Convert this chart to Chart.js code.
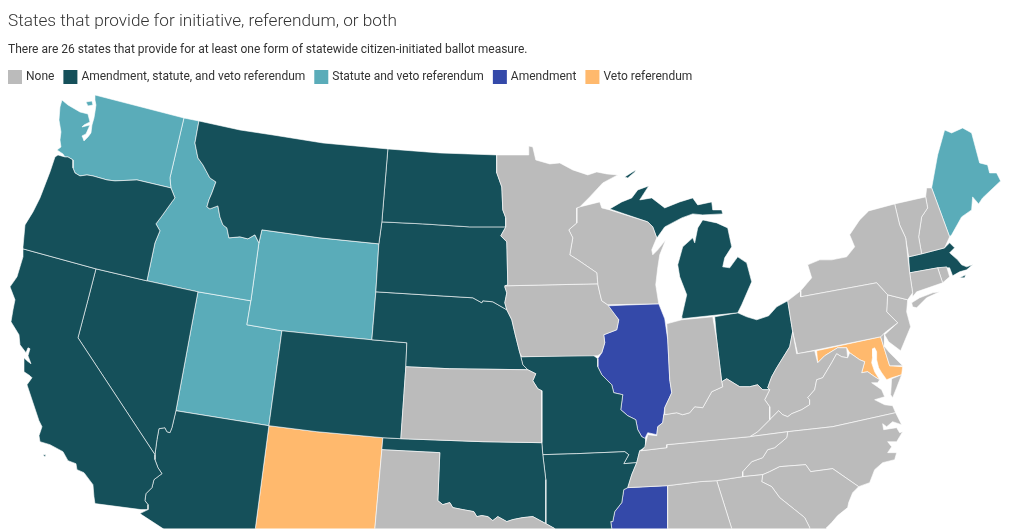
<!DOCTYPE html>
<html><head><meta charset="utf-8">
<style>html,body{margin:0;padding:0;background:#fff}canvas{display:block}</style>
<script src="https://cdn.jsdelivr.net/npm/chart.js@4"></script>
</head><body><canvas id="c" width="1012" height="529"></canvas>
<script>
const titleText = "States that provide for initiative, referendum, or both";
const subtitleText = "There are 26 states that provide for at least one form of statewide citizen-initiated ballot measure.";
const categories = ["None","Amendment, statute, and veto referendum","Statute and veto referendum","Amendment","Veto referendum"];
const categoryColors = ["#BBBBBB","#15505A","#5AACB9","#3449A9","#FFB96D"];

// State outlines, as [x, y, x, y, ...] in map units
const WA=[95,95,184,118,170,178,171,188,137,180,115,181,107,180,93,176,87,175,80,176,75,173,73,168,73,160,68,157,65,157,63,154,57,150,61,147,60,140,61,132,59,120,60,107,62,100,68,105,80,112,84,113,88,114,90,122,84,125,82,127,90,125,86,134,82,136,83,138,84,141,88,137,91,133,92,125,94,118,95,112,96,105,95,100];
const WA_island=[86,102,92,101,93,105,88,106];
const OR=[58,155,65,157,68,157,73,160,73,168,75,173,80,176,87,175,93,176,107,180,115,181,137,180,171,188,175,198,172,202,162,216,156,224,160,231,155,243,147,281,96,269,23,249,23,247,25,225,33,212,40,198,50,172,55,157];
const CA=[23,249,96,269,88,300,78,338,155,455,155,460,158,468,162,474,154,480,152,488,146,494,145,501,148,505,148,510,141,510,95,504,94,497,93,485,84,473,77,470,76,464,68,461,63,452,50,445,40,442,39,436,42,427,39,421,33,403,27,385,32,378,30,376,24,372,24,358,27,361,31,364,28,356,30,349,28,348,26,353,20,345,19,335,11,322,13,310,15,300,10,287,17,277,20,267,23,257];
const CA_island=[43,455,46,455,45,457];
const NV=[96,269,147,281,198,292,176,411,172,428,170,433,167,432,165,428,159,429,157,440,155,455,78,338,88,300];
const ID=[184,118,199,121,195,143,198,158,203,165,210,178,216,182,212,193,209,200,207,207,210,209,218,206,220,217,223,225,227,228,229,238,240,237,248,239,255,235,259,243,251,301,198,292,147,281,155,243,160,231,156,224,162,216,172,202,175,198,171,188,170,178];
const MT=[199,121,240,130,273,135,323,143,388,149,382,222,379,244,320,238,262,230,259,243,255,235,248,239,240,237,229,238,227,228,223,225,220,217,218,206,210,209,207,207,209,200,212,193,216,182,210,178,203,165,198,158,195,143];
const ND=[388,149,440,153,497,155,497,163,497,173,502,187,503,210,506,218,506,227,470,227,423,224,382,222];
const SD=[382,222,423,224,470,227,506,227,501,236,507,242,508,285,505,287,507,293,505,303,507,310,493,302,483,301,482,303,473,298,440,296,376,292,379,244];
const WY=[262,230,320,238,379,244,376,292,372,340,340,337,282,331,247,325,251,301,259,243];
const NE=[376,292,440,296,473,298,482,303,483,301,493,302,507,310,512,320,515,333,520,353,523,365,528,370,450,369,406,367,407,343,372,340];
const CO=[282,331,340,337,372,340,407,343,406,367,401,439,383,438,317,432,269,426];
const UT=[198,292,251,301,247,325,282,331,269,426,176,411];
const AZ=[176,411,269,426,250,570,200,552,163,529,140,514,148,510,148,505,145,501,146,494,152,488,154,480,162,474,158,468,155,460,155,455,157,440,159,429,165,428,167,432,170,433,172,428];
const NM=[269,426,317,432,383,438,382,450,375,529,370,570,250,570];
const KS=[406,367,450,369,528,370,536,374,533,381,538,389,542,391,542,443,483,442,401,439];
const MO=[521,357,593,355,598,359,598,367,602,375,612,385,614,393,623,395,621,410,628,416,636,420,638,430,642,437,646,439,646,447,640,451,637,463,624,464,629,455,625,452,577,454,543,455,542,443,542,391,538,389,533,381,536,374,528,370,523,365];
const IA=[505,286,598,284,600,293,602,301,608,305,619,320,617,330,604,335,605,343,602,353,598,356,522,357,520,353,515,333,512,320,507,310,505,303,507,293,505,287];
const MN=[497,155,529,155,529,146,533,147,536,160,550,164,560,163,573,170,588,175,597,172,607,174,618,175,603,183,590,197,580,207,577,208,577,223,569,230,573,238,570,255,578,260,597,273,598,284,505,286,508,285,507,242,501,236,506,227,506,218,503,210,502,187,497,173,497,163];
const WI=[580,207,600,202,602,208,610,210,648,222,653,227,657,238,652,250,653,255,658,250,666,240,660,255,658,268,656,285,659,304,608,305,602,301,600,293,598,284,597,273,578,260,570,255,573,238,569,230,577,223,577,208];
const IL=[608,306,659,304,665,319,668,340,670,380,672,393,665,408,663,423,658,427,657,435,648,433,645,439,642,437,638,430,636,420,628,416,621,410,623,395,614,393,612,385,602,375,598,367,598,359,602,353,605,343,604,335,617,330,619,320];
const IN=[667,324,682,320,713,317,717,340,722,382,723,387,712,392,703,408,695,407,690,413,683,415,677,413,665,415,665,408,672,393,670,380,668,340];
const OH=[715,317,738,313,747,317,757,320,769,316,777,307,788,301,793,332,790,347,777,368,772,377,768,388,770,390,763,390,758,385,750,387,740,387,727,379,722,382,717,340];
const MI_lower=[682,319,738,313,742,305,752,282,747,263,738,257,730,268,723,267,725,258,732,247,728,228,717,223,703,220,698,228,695,243,693,238,683,247,678,265,680,277,687,295,682,317];
const MI_upper=[610,209,622,202,632,198,638,190,649,186,640,200,652,198,665,208,680,202,693,198,698,205,712,202,713,210,722,210,723,214,703,215,693,214,682,218,665,227,658,237,657,238,653,227,648,222];
const MI_isle=[625,177,636,170,635,172,628,178];
const KY=[645,447,648,435,657,436,658,427,663,423,664,415,677,413,683,415,690,413,695,407,703,408,712,392,723,387,722,382,727,379,740,387,750,387,758,385,763,390,770,390,765,400,770,407,770,420,758,432,750,437,667,445,667,448,642,451];
const TN=[642,451,667,448,667,445,750,437,788,432,787,438,775,448,768,450,763,458,752,462,743,472,743,477,717,481,700,482,668,486,628,488,632,475,637,463,640,451];
const AR=[543,455,577,454,625,452,629,455,624,464,637,463,632,475,628,488,624,490,622,503,615,512,613,522,611,522,612,529,612,560,546,560,555,529,546,524,546,480];
const OK=[383,438,401,439,483,442,542,443,543,455,546,480,546,524,533,517,523,518,513,520,507,522,498,517,493,521,488,517,482,516,477,517,474,512,463,510,453,508,450,503,443,505,438,501,440,453,382,450];
const TX=[382,450,440,453,438,501,443,505,450,503,453,508,463,510,474,512,477,517,482,516,488,517,493,521,498,517,507,522,513,520,523,518,533,517,546,524,555,529,560,560,370,570,375,529];
const MS=[628,488,668,486,668,560,612,560,612,529,611,522,613,522,615,512,622,503,624,490];
const AL=[668,486,700,482,717,481,732,529,740,560,668,560];
const GA=[717,481,743,477,763,475,762,482,772,487,780,498,795,510,805,518,810,528,812,560,740,560,732,529];
const SC=[763,475,770,472,780,467,806,465,811,472,833,469,859,487,853,493,849,503,848,508,838,516,832,523,827,528,827,560,812,560,810,528,805,518,795,510,780,498,772,487,762,482];
const NC=[788,432,833,427,896,413,902,425,893,422,887,427,883,424,884,430,897,428,900,433,903,432,900,437,897,442,888,442,892,447,888,453,897,453,895,460,883,463,875,470,870,483,859,487,833,469,811,472,806,465,780,467,770,472,763,475,743,477,743,472,752,462,763,458,768,450,775,448,787,438];
const VA=[750,437,758,432,770,420,779,411,783,415,788,417,792,414,802,410,810,405,810,400,808,398,815,390,817,380,823,378,832,363,837,354,842,357,848,358,850,353,860,360,865,362,862,373,868,372,875,377,880,380,878,383,872,383,882,390,885,397,875,400,885,405,893,406,896,413,833,427,788,432];
const VA_shore=[892,379,902,375,897,388,893,398,891,395];
const WV=[793,332,797,354,815,351,818,363,825,356,838,348,847,348,848,358,842,357,837,354,832,363,823,378,817,380,815,390,808,398,810,400,810,405,802,410,792,414,788,417,783,415,779,411,770,420,770,407,765,400,770,390,768,388,772,377,777,368,790,347];
const MD=[817,351,881,337,890,366,903,367,902,375,892,378,887,380,882,373,879,368,877,360,877,352,875,348,873,349,873,357,872,363,875,372,880,380,875,377,868,372,862,373,865,362,860,360,850,353,847,348,838,348,825,356,818,363];
const DE=[881,337,885,333,885,347,890,353,895,358,903,366,890,366];
const NJ=[888,295,908,300,907,312,911,327,901,351,889,342,885,335,898,323,887,312];
const PA=[788,301,801,291,801,297,877,283,888,295,887,312,898,323,885,333,881,337,798,354,793,332];
const NY=[801,291,812,278,808,265,820,260,832,260,847,257,855,247,850,235,860,220,869,211,895,204,900,225,906,238,910,273,913,293,908,300,888,295,877,283,801,297];
const NY_island=[912,303,920,298,933,293,940,292,927,298,917,308,913,307];
const VT=[895,204,926,197,928,208,922,217,919,237,922,254,909,257,906,238,900,225];
const NH=[927,188,932,188,950,237,945,248,922,254,919,237,922,217,928,208,926,197];
const ME=[932,188,938,155,945,130,952,133,963,128,972,133,980,163,988,165,990,173,997,173,1001,181,983,198,979,204,973,197,972,210,962,217,952,235,950,237];
const MA=[909,257,922,254,945,248,950,243,955,248,950,253,958,260,962,265,967,267,973,265,967,270,960,272,953,276,950,268,938,268,910,273];
const MA_island=[960,278,966,275,965,278];
const CT=[910,273,938,268,943,283,917,292,913,297,913,293];
const RI=[938,268,947,267,950,277,943,283];

// Which category each outline belongs to (index into categories)
const noneShapes=[MN,WI,IA,KS,TX,IN,KY,TN,AL,GA,SC,NC,VA,VA_shore,WV,PA,NY,NY_island,VT,NH,CT,RI,NJ,DE];
const fullShapes=[OR,CA,CA_island,NV,AZ,MT,ND,SD,NE,CO,OK,AR,MO,MI_lower,MI_upper,MI_isle,OH,MA,MA_island];
const statuteShapes=[WA,WA_island,ID,WY,UT,ME];
const amendmentShapes=[IL,MS];
const vetoShapes=[NM,MD];
const groups=[noneShapes,fullShapes,statuteShapes,amendmentShapes,vetoShapes];

function toPoints(flat){
  const pts=[];
  for(let i=0;i<flat.length;i+=2) pts.push({x:flat[i],y:flat[i+1]});
  pts.push({x:flat[0],y:flat[1]});
  return pts;
}
const datasets=[];
groups.forEach((shapes,g)=>shapes.forEach(s=>datasets.push({
  label:categories[g],data:toPoints(s),showLine:true,fill:'shape',tension:0,
  backgroundColor:categoryColors[g],borderColor:'rgba(255,255,255,0.75)',borderWidth:0.8,
  pointRadius:0,pointHoverRadius:0,borderJoinStyle:'round'
})));

const legendShift={id:'legendShift',afterLayout(chart){chart.legend.left=-1;}};
const chart=new Chart(document.getElementById('c'),{
  type:'scatter',
  data:{datasets},
  plugins:[legendShift],
  options:{
    responsive:false,animation:false,events:[],
    layout:{padding:{left:8,right:0,top:0,bottom:0}},
    scales:{
      x:{type:'linear',display:false,min:8,max:1012},
      y:{type:'linear',display:false,reverse:true,min:95,max:529}
    },
    plugins:{
      tooltip:{enabled:false},
      title:{display:true,text:titleText,align:'start',color:'#333333',
        font:{family:'Roboto',size:17.2,weight:'300',lineHeight:1.2},padding:{top:11.5,bottom:5.5}},
      subtitle:{display:true,text:subtitleText,align:'start',color:'#333333',
        font:{family:'Roboto',size:12,weight:'400',lineHeight:1.2},padding:{top:5,bottom:3}},
      legend:{display:true,position:'top',align:'start',
        labels:{boxWidth:10,boxHeight:10,padding:11,color:'#333333',
          font:{family:'Roboto',size:12},
          generateLabels:()=>categories.map((c,i)=>({text:c,fillStyle:categoryColors[i],strokeStyle:categoryColors[i],lineWidth:4,fontColor:'#333333',hidden:false,datasetIndex:i}))}}
    }
  }
});
chart.options.scales.y.min=chart.chartArea.top;
chart.update('none');
</script></body></html>
